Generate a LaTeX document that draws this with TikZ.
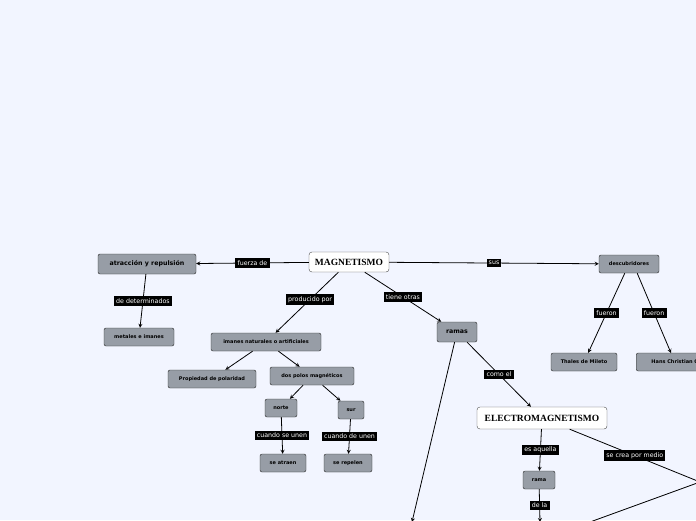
\documentclass[tikz,border=0pt]{standalone}
\usepackage{fontspec}
\setmainfont{DejaVu Sans}
\newfontfamily\titlefont{Liberation Serif}
\usetikzlibrary{arrows}
\definecolor{bgblue}{HTML}{F2F5FF}
\definecolor{boxgray}{HTML}{979DA6}
\tikzstyle{topic} = [rectangle, rounded corners=2pt, draw=black!85, fill=boxgray, text centered, font=\fontsize{5}{6}\selectfont\bfseries, inner sep=0pt, minimum height=18pt]
\tikzstyle{main} = [rectangle, rounded corners=3pt, draw=black!70, fill=white, text centered, font=\titlefont\fontsize{9.5}{10}\selectfont\bfseries, inner sep=0pt, minimum height=22pt]
\tikzstyle{lbl} = [rectangle, fill=black, text=white, font=\fontsize{6.3}{7}\selectfont, inner sep=2.2pt]
\tikzstyle{arrow} = [thick,->,>=stealth]
\tikzstyle{line} = [thick]

\begin{document}
\begin{tikzpicture}[x=1pt, y=-1pt]
\fill[bgblue] (0,0) rectangle (696,520);
\useasboundingbox (0,0) rectangle (696,520);
\clip (0,0) rectangle (696,520);

\node (mag) [main, minimum width=80pt, minimum height=20pt] at (349,262) {MAGNETISMO};
\node (atr) [topic, minimum width=98pt, minimum height=20pt, font=\fontsize{6.3}{7}\selectfont\bfseries] at (147,264) {atracción y repulsión};
\node (met) [topic, minimum width=70pt] at (139,337) {metales e imanes};
\node (ima) [topic, minimum width=110pt] at (266,342) {imanes naturales o artificiales};
\node (pro) [topic, minimum width=88pt] at (212,379) {Propiedad de polaridad};
\node (dos) [topic, minimum width=84pt] at (312,376) {dos polos magnéticos};
\node (nor) [topic, minimum width=32pt] at (281,408) {norte};
\node (sur) [topic, minimum width=26pt] at (351,410) {sur};
\node (atra) [topic, minimum width=46pt] at (283,463) {se atraen};
\node (rep) [topic, minimum width=48pt] at (348,463) {se repelen};
\node (ram) [topic, minimum width=40pt, minimum height=20pt, font=\fontsize{6.3}{7}\selectfont\bfseries] at (457,332) {ramas};
\node (ele) [main, minimum width=130pt] at (542,418) {ELECTROMAGNETISMO};
\node (rama) [topic, minimum width=32pt] at (539,480) {rama};
\node (des) [topic, minimum width=60pt] at (629,264) {descubridores};
\node (tha) [topic, minimum width=66pt] at (584,362) {Thales de Mileto};
\node (han) [topic, minimum width=96pt, anchor=west] at (636,362) {Hans Christian Oersted};

% free ends outside the frame
\coordinate (fis) at (412,522);
\coordinate (dela) at (540,522);
\coordinate (med) at (700,482);
\coordinate (low) at (590,522);

\draw [arrow] (mag) -- node[lbl] {fuerza de} (atr);
\draw [arrow] (mag) -- node[lbl] {sus} (des);
\draw [arrow] (mag) -- node[lbl, pos=0.45] {producido por} (ima);
\draw [arrow] (mag) -- node[lbl, pos=0.5] {tiene otras} (ram);
\draw [arrow] (atr) -- node[lbl] {de determinados} (met);
\draw [arrow] (ima) -- (pro);
\draw [arrow] (ima) -- (dos);
\draw [arrow] (dos) -- (nor);
\draw [arrow] (dos) -- (sur);
\draw [arrow] (nor) -- node[lbl] {cuando se unen} (atra);
\draw [arrow] (sur) -- node[lbl] {cuando de unen} (rep);
\draw [arrow] (des) -- node[lbl] {fueron} (tha);
\draw [arrow] (des.south east) ++(-22,0) -- node[lbl] {fueron} (671,353);
\draw [arrow] (ram) -- node[lbl] {como el} (ele);
\draw [arrow] (ram) -- (fis);
\draw [arrow] (ele) -- node[lbl] {es aquella} (rama);
\draw [line] (ele) -- node[lbl, pos=0.5] {se crea por medio} (med);
\draw [arrow] (rama) -- node[lbl] {de la} (dela);
\draw [line] (low) -- (med);

\end{tikzpicture}
\end{document}
